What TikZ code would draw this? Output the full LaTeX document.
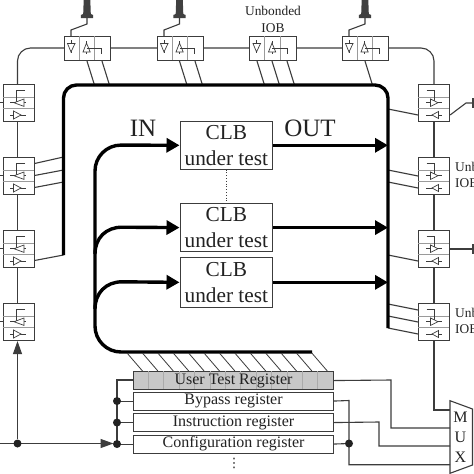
\documentclass[tikz,border=0pt]{standalone}
\usepackage{fontspec}
\setmainfont{Liberation Serif}
\newfontfamily\symfont{DejaVu Sans}
\usetikzlibrary{arrows.meta,calc}
\definecolor{wire}{HTML}{3C3C3C}
\definecolor{divl}{HTML}{9A9A9A}
\definecolor{ink}{HTML}{222222}
\definecolor{pinc}{HTML}{404040}
\definecolor{regfill}{HTML}{C8C8C8}
\definecolor{regdiv}{HTML}{ABABAB}
\tikzset{
  wr/.style={draw=wire,line width=1.1pt},
  glyph/.style={draw=wire,line width=0.7pt},
  tri/.style={draw=wire,line width=0.7pt,fill=white},
  iobh/.style={draw=wire,line width=1.1pt,fill=white,minimum width=46.5pt,minimum height=24pt,inner sep=0pt},
  iobv/.style={draw=wire,line width=1.1pt,fill=white,minimum width=31pt,minimum height=37pt,inner sep=0pt},
  clb/.style={draw=wire,line width=1.1pt,fill=white,minimum width=92.5pt,minimum height=47.5pt,inner sep=0pt,align=center,font=\fontsize{21.3}{26.5}\selectfont,text=ink},
  reg/.style={draw=wire,line width=1.1pt,fill=white,minimum width=200pt,minimum height=18pt,inner sep=0pt,font=\fontsize{16}{16}\selectfont,text=ink},
  bus/.style={draw=black,line width=3.4pt},
  busar/.style={bus,-{Triangle[length=13pt,width=14pt]}},
  dot/.style={circle,fill=ink,inner sep=0pt,minimum width=8pt,minimum height=7pt},
  lbl/.style={inner sep=0pt,text=ink,font=\fontsize{13.4}{15}\selectfont},
  biglbl/.style={inner sep=0pt,text=ink,font=\fontsize{25}{25}\selectfont},
  pinb/.style={fill=pinc,draw=none},
}
\newcommand{\iobtop}[3]{%
  \node[iobh,anchor=north west] (#1) at (#2,#3) {};
  \begin{scope}[shift={(#2,#3)}]
    \draw[draw=divl,line width=0.7pt] (15.5,0)--(15.5,24) (31,0)--(31,24);
    \draw[glyph] (7.5,4)--(7.5,17);
    \draw[tri] (4,7.5)--(11.5,7.5)--(7.5,16)--cycle;
    \draw[glyph] (23,5)--(23,18);
    \draw[tri] (23,7)--(26.7,16)--(19.5,16)--cycle;
    \draw[glyph] (23,12)--(38,12)--(38,18);
  \end{scope}}
\newcommand{\iobleft}[3]{%
  \node[iobv,anchor=north west] (#1) at (#2,#3) {};
  \begin{scope}[shift={(#2,#3)}]
    \draw[draw=divl,line width=0.7pt] (0,13)--(31,13) (0,24.5)--(31,24.5);
    \draw[glyph] (22.5,6.5)--(14.3,6.5)--(14.3,18.7);
    \draw[glyph] (7.5,18.7)--(23.5,18.7);
    \draw[tri] (11.5,18.7)--(21.5,15)--(21.5,22.4)--cycle;
    \draw[glyph] (7.5,31)--(23,31);
    \draw[tri] (11,27)--(18.5,31)--(11,35)--cycle;
  \end{scope}}
\newcommand{\iobright}[3]{%
  \node[iobv,anchor=north west] (#1) at (#2,#3) {};
  \begin{scope}[shift={(#2,#3)}]
    \draw[draw=divl,line width=0.7pt] (0,13)--(31,13) (0,24.5)--(31,24.5);
    \draw[glyph] (8.5,6.5)--(16.5,6.5)--(16.5,18.7);
    \draw[glyph] (8,18.7)--(24,18.7);
    \draw[tri] (12.5,15)--(20,18.7)--(12.5,22.4)--cycle;
    \draw[glyph] (8,31)--(24,31);
    \draw[tri] (14,31)--(20.5,27.5)--(20.5,34.5)--cycle;
  \end{scope}}
\newcommand{\toppin}[1]{%
  \fill[pinb] (#1-3.3,0)--(#1+3.3,0)--(#1+3.8,14)--(#1+6.2,15)--(#1+6.2,18)--(#1-6.2,18)--(#1-6.2,15)--(#1-3.8,14)--cycle;}
\begin{document}
\begin{tikzpicture}[x=1pt,y=-1pt]
\useasboundingbox (0,0) rectangle (474,474);
\clip (0,0) rectangle (474,474);
\fill[white] (0,0) rectangle (474,474);

\draw[wr,rounded corners=13pt] (17.5,84)--(17.5,48)--(434,48)--(434,84);
\draw[wr] (17.5,84)--(17.5,340);
\draw[wr] (434,84)--(434,410)--(450,410);

\coordinate (busL) at (63.5,85);
\coordinate (busR) at (388,85);

\iobtop{t1}{63.5}{36}
\iobtop{t2}{156.5}{36}
\iobtop{t3}{249}{36}
\iobtop{t4}{341.5}{36}
\iobleft{l1}{2.5}{84}
\iobleft{l2}{2.5}{157}
\iobleft{l3}{2.5}{230}
\iobleft{l4}{2.5}{303}
\iobright{r1}{418}{84}
\iobright{r2}{418}{157}
\iobright{r3}{418}{230}
\iobright{r4}{418}{303}

\foreach \b/\o in {t1/23.5,t1/38.5,t2/23,t2/38.5,t3/8,t3/23,t3/38,t4/23.5}
  \draw[wr] ($(\b.south west)+(\o,0)$)--++(7.5,24);
\draw[wr] (l2.east|-0,163.5)--(busL|-0,157);
\draw[wr] (l2.east|-0,175.5)--(busL|-0,170);
\draw[wr] (l2.east|-0,187.5)--(busL|-0,182);
\draw[wr] (l3.east|-0,260.5)--(busL|-0,255);
\draw[wr] (r1.west|-0,115)--(busR|-0,109);
\draw[wr] (r2.west|-0,176)--(busR|-0,170);
\draw[wr] (r2.west|-0,188)--(busR|-0,182);
\draw[wr] (r3.west|-0,261)--(busR|-0,255);
\draw[wr] (r4.west|-0,310)--(busR|-0,304);
\draw[wr] (r4.west|-0,322)--(busR|-0,316);
\draw[wr] (r4.west|-0,334)--(busR|-0,328);

\draw[bus,rounded corners=13pt] (busL|-0,255)--(busL)--(busR)--(busR|-0,328);

\draw[wr] (0,102.7)--(l1.west|-0,102.7);
\draw[wr] (0,248.7)--(l3.west|-0,248.7);
\draw[wr] (0,321.7)--(l4.west|-0,321.7);
\draw[wr] (0,175.7)--(l2.west|-0,175.7);

\foreach \p/\b in {87/t1,179.5/t2,365/t4}{
  \toppin{\p}
  \draw[wr] ($(\b.north west)+(7.5,0)$)--++(0,-6)--(\p,24)--(\p,18);
}
\coordinate (p1) at (472,103);
\coordinate (p3) at (472,249);
\draw[wr] (r1.east|-0,115)--(466,103)--(p1);
\draw[wr] (r3.east|-0,249)--(p3);
\fill[pinb] (471.5,98) rectangle (474,108);
\fill[pinb] (471.5,244) rectangle (474,254);

\node[lbl] (u1) at (273,11) {Unbonded};
\node[lbl] (u2) at (273,28) {IOB};
\node[lbl,anchor=west] (u3) at (455,167) {Unbonded};
\node[lbl,anchor=west] (u4) at (455,183.5) {IOB};
\node[lbl,anchor=west] (u5) at (455,313) {Unbonded};
\node[lbl,anchor=west] (u6) at (455,329.5) {IOB};

\node[clb,anchor=north west] (c1) at (179.5,121) {CLB\\under test};
\node[clb,anchor=north west] (c2) at (179.5,203.3) {CLB\\under test};
\node[clb,anchor=north west,minimum height=50pt] (c3) at (179.5,256.8) {CLB\\under test};
\draw[draw=wire,line width=0.8pt,dotted] (c1.south)--(c2.north);

\node[biglbl] (in) at (143,128) {IN};
\node[biglbl] (out) at (310,128) {OUT};

\draw[busar,rounded corners=26pt] (312,352)--(95,352)--(95,145)--(c1.west);
\draw[busar] (95,254) .. controls (95,238) and (106,227.2) .. (122,227.2)--(c2.west);
\draw[busar] (95,309) .. controls (95,293) and (106,281.8) .. (122,281.8)--(c3.west);
\foreach \c in {c1,c2,c3}
  \draw[busar] (\c.east)--(\c.east-|busR);

\node[reg,anchor=north west,fill=regfill] (ur) at (133,371) {};
\foreach \i in {1,...,12}
  \draw[draw=regdiv,line width=0.6pt] (133+15.385*\i,371)--(133+15.385*\i,389);
\node[inner sep=0pt,text=ink,font=\fontsize{16}{16}\selectfont] (urt) at (ur.center) {User Test Register};
\node[reg,anchor=north west] (br) at (133,391.5) {Bypass register};
\node[reg,anchor=north west] (ir) at (133,413) {Instruction register};
\node[reg,anchor=north west] (cr) at (133,434.5) {Configuration register};
\foreach \i in {0,...,12}
  \draw[wire,line width=0.8pt] (127+15.4*\i,353)--(142.5+15.4*\i,371);
\node[inner sep=0pt,text=ink,font=\symfont\fontsize{13}{13}\selectfont] (vd) at (234,463) {⋮};

\coordinate (ctl) at (117,380);
\draw[wr] (ur.west|-ctl)--(ctl)--(ctl|-cr.west);
\draw[wr] (ctl|-br.west)--(br.west);
\draw[wr] (ctl|-ir.west)--(ir.west);
\draw[wr] (ctl|-cr.west)--(cr.west);
\node[dot] (d1) at (ctl|-br.west) {};
\node[dot] (d2) at (ctl|-ir.west) {};
\node[dot] (d3) at (ctl|-cr.west) {};
\coordinate (tl) at (0,443.5);
\draw[wr,-{Triangle[length=13pt,width=9pt]}] (tl)--(113.5,443.5);
\node[dot] (d4) at (17.5,443.5) {};
\draw[wr,-{Triangle[length=13pt,width=9pt]}] (d4)--(l4.south-|d4);

\draw[wr,fill=white] (450,400.7)--(472.5,409)--(472.5,465)--(450,473.3)--cycle;
\draw[draw=wire,line width=1.8pt] (472.5,409)--(472.5,465);
\node[inner sep=0pt,text=ink,font=\fontsize{16}{16}\selectfont] (mm) at (460.5,417) {M};
\node[inner sep=0pt,text=ink,font=\fontsize{16}{16}\selectfont] (mu) at (460.5,437) {U};
\node[inner sep=0pt,text=ink,font=\fontsize{16}{16}\selectfont] (mx) at (460.5,457) {X};

\draw[wr] (ur.east)--(391,380)--(391,428)--(450,428);
\draw[wr] (br.east)--(349,400.5)--(349,464.7)--(450,464.7);
\draw[wr] (ir.east)--(379,422)--(379,446)--(450,446);
\draw[wr] (cr.east)--(349,443.5);
\node[dot] (d5) at (349,443.5) {};
\end{tikzpicture}
\end{document}
